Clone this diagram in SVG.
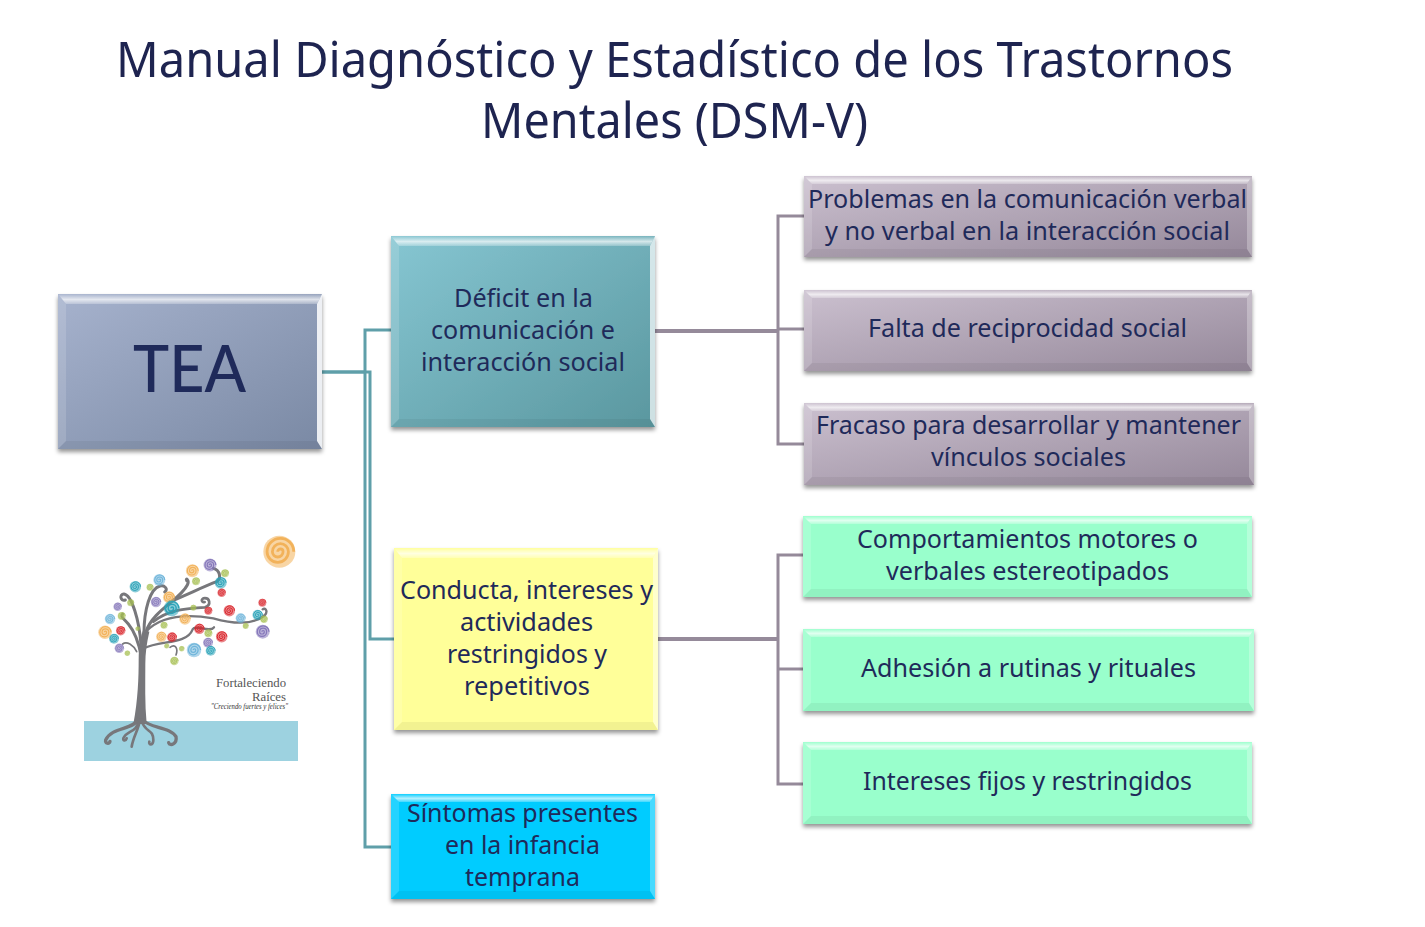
<svg xmlns="http://www.w3.org/2000/svg" width="1425" height="927" viewBox="0 0 1425 927">
<style>
text{font-family:"Noto Sans","Open Sans","DejaVu Sans",sans-serif;fill:#1f2a5a}
.t{font-size:50px;fill:#1e2450}
.l{font-size:26px}
.tea{font-family:Lato,"Noto Sans",sans-serif;font-size:66px;font-weight:500}
.ct{fill:none;stroke:#5f9fa9;stroke-width:3}
.cp{fill:none;stroke:#958a9a;stroke-width:3}
.cm{stroke-width:4}
.bt{fill:url(#bevT)}
.bl{fill:#fff;opacity:.14}
.br{fill:#fff;opacity:.28}
.bb{fill:#000;opacity:.05}
#node-tea .br{opacity:.85}
#node-deficit .br{opacity:.7}
#node-conducta .br{opacity:.5}
.face{filter:url(#sh)}
.tree{fill:none;stroke:#77777b;stroke-linecap:round}
.o{color:#f2b25a}.p{color:#8577ba}.g{color:#a6bf52}.c{color:#2ba3b8}.r{color:#d9252b}.b{color:#6fb5da}
.lg{font-family:"Liberation Serif",serif;fill:#555}
</style>
<defs>
<filter id="sh" x="-5%" y="-5%" width="110%" height="115%"><feDropShadow dx="0" dy="3" stdDeviation="2" flood-color="#000" flood-opacity=".42"/></filter>
<linearGradient id="bevT" x1="0" y1="0" x2="0" y2="1"><stop offset="0" stop-color="#fff" stop-opacity=".05"/><stop offset=".55" stop-color="#fff" stop-opacity=".7"/><stop offset="1" stop-color="#fff" stop-opacity=".25"/></linearGradient>
<linearGradient id="gTea" x1="0" y1="0" x2="1" y2="1"><stop offset="0" stop-color="#a6b2cd"/><stop offset="1" stop-color="#7a89a4"/></linearGradient>
<linearGradient id="gTeal" x1="0" y1="0" x2="1" y2="1"><stop offset="0" stop-color="#86c6d2"/><stop offset="1" stop-color="#5a979f"/></linearGradient>
<linearGradient id="gPur" x1="0" y1="0" x2="1" y2="1"><stop offset="0" stop-color="#cbc0cf"/><stop offset="1" stop-color="#95889a"/></linearGradient>
<g id="s"><circle r="15" fill="currentColor" opacity=".55"/><path d="M0 0a2.5 2.5 0 0 1 5 0a5 5 0 0 1-10 0a7.5 7.5 0 0 1 15 0a10 10 0 0 1-20 0a12.5 12.5 0 0 1 25 0" transform="translate(-1.5 0)" fill="none" stroke="currentColor" stroke-width="2.6"/></g>
</defs>

<g id="title">
<text class="t" x="116" y="77" textLength="1117" lengthAdjust="spacingAndGlyphs">Manual Diagnóstico y Estadístico de los Trastornos</text>
<text class="t" x="481" y="138" textLength="387" lengthAdjust="spacingAndGlyphs">Mentales (DSM-V)</text>
</g>

<g id="connectors">
<path class="ct" d="M322 372H370V639H394"/>
<path class="ct" d="M391 330H365V847H391"/>
<path class="ct" d="M322 372H365"/>
<path class="cp cm" d="M655 331H778"/>
<path class="cp" d="M804 216H778V444H804"/>
<path class="cp" d="M778 329H804"/>
<path class="cp cm" d="M658 639H778"/>
<path class="cp" d="M803 555H778V784H803"/>
<path class="cp" d="M778 669H803"/>
</g>

<g id="node-tea">
<rect class="face" x="58" y="294" width="264" height="155" fill="url(#gTea)"/>
<polygon class="bt" points="58,294 322,294 317,304 66,304"/><polygon class="bl" points="58,294 66,304 66,441 58,449"/><polygon class="br" points="322,294 322,449 317,441 317,304"/><polygon class="bb" points="58,449 322,449 317,441 66,441"/>
<text class="tea" x="133" y="392" textLength="113" lengthAdjust="spacingAndGlyphs">TEA</text>
</g>

<g id="node-deficit">
<rect class="face" x="391" y="236" width="264" height="191" fill="url(#gTeal)"/>
<polygon class="bt" points="391,236 655,236 650,246 399,246"/><polygon class="bl" points="391,236 399,246 399,419 391,427"/><polygon class="br" points="655,236 655,427 650,419 650,246"/><polygon class="bb" points="391,427 655,427 650,419 399,419"/>
<text class="l" x="454" y="307" textLength="139" lengthAdjust="spacingAndGlyphs">Déficit en la</text>
<text class="l" x="431" y="339" textLength="184" lengthAdjust="spacingAndGlyphs">comunicación e</text>
<text class="l" x="421" y="371" textLength="204" lengthAdjust="spacingAndGlyphs">interacción social</text>
</g>

<g id="node-conducta">
<rect class="face" x="394" y="548" width="264" height="182" fill="#ffff99"/>
<polygon class="bt" points="394,548 658,548 653,558 402,558"/><polygon class="bl" points="394,548 402,558 402,722 394,730"/><polygon class="br" points="658,548 658,730 653,722 653,558"/><polygon class="bb" points="394,730 658,730 653,722 402,722"/>
<text class="l" x="400" y="599" textLength="253" lengthAdjust="spacingAndGlyphs">Conducta, intereses y</text>
<text class="l" x="460" y="631" textLength="133" lengthAdjust="spacingAndGlyphs">actividades</text>
<text class="l" x="447" y="663" textLength="160" lengthAdjust="spacingAndGlyphs">restringidos y</text>
<text class="l" x="464" y="695" textLength="126" lengthAdjust="spacingAndGlyphs">repetitivos</text>
</g>

<g id="node-sintomas">
<rect class="face" x="391" y="794" width="264" height="105" fill="#00ccff"/>
<polygon class="bt" points="391,794 655,794 650,802 399,802"/><polygon class="bl" points="391,794 399,802 399,891 391,899"/><polygon class="br" points="655,794 655,899 650,891 650,802"/><polygon class="bb" points="391,899 655,899 650,891 399,891"/>
<text class="l" x="407" y="822" textLength="231" lengthAdjust="spacingAndGlyphs">Síntomas presentes</text>
<text class="l" x="445" y="854" textLength="155" lengthAdjust="spacingAndGlyphs">en la infancia</text>
<text class="l" x="465" y="886" textLength="115" lengthAdjust="spacingAndGlyphs">temprana</text>
</g>

<g id="node-problemas">
<rect class="face" x="804" y="176" width="448" height="81" fill="url(#gPur)"/>
<polygon class="bt" points="804,176 1252,176 1247,184 812,184"/><polygon class="bl" points="804,176 812,184 812,249 804,257"/><polygon class="br" points="1252,176 1252,257 1247,249 1247,184"/><polygon class="bb" points="804,257 1252,257 1247,249 812,249"/>
<text class="l" x="808" y="208" textLength="439" lengthAdjust="spacingAndGlyphs">Problemas en la comunicación verbal</text>
<text class="l" x="825" y="240" textLength="405" lengthAdjust="spacingAndGlyphs">y no verbal en la interacción social</text>
</g>

<g id="node-falta">
<rect class="face" x="804" y="290" width="448" height="81" fill="url(#gPur)"/>
<polygon class="bt" points="804,290 1252,290 1247,298 812,298"/><polygon class="bl" points="804,290 812,298 812,363 804,371"/><polygon class="br" points="1252,290 1252,371 1247,363 1247,298"/><polygon class="bb" points="804,371 1252,371 1247,363 812,363"/>
<text class="l" x="868" y="337" textLength="319" lengthAdjust="spacingAndGlyphs">Falta de reciprocidad social</text>
</g>

<g id="node-fracaso">
<rect class="face" x="804" y="403" width="450" height="82" fill="url(#gPur)"/>
<polygon class="bt" points="804,403 1254,403 1249,411 812,411"/><polygon class="bl" points="804,403 812,411 812,477 804,485"/><polygon class="br" points="1254,403 1254,485 1249,477 1249,411"/><polygon class="bb" points="804,485 1254,485 1249,477 812,477"/>
<text class="l" x="816" y="434" textLength="425" lengthAdjust="spacingAndGlyphs">Fracaso para desarrollar y mantener</text>
<text class="l" x="931" y="466" textLength="195" lengthAdjust="spacingAndGlyphs">vínculos sociales</text>
</g>

<g id="node-comportamientos">
<rect class="face" x="803" y="516" width="449" height="81" fill="#99ffcc"/>
<polygon class="bt" points="803,516 1252,516 1247,524 811,524"/><polygon class="bl" points="803,516 811,524 811,589 803,597"/><polygon class="br" points="1252,516 1252,597 1247,589 1247,524"/><polygon class="bb" points="803,597 1252,597 1247,589 811,589"/>
<text class="l" x="857" y="548" textLength="341" lengthAdjust="spacingAndGlyphs">Comportamientos motores o</text>
<text class="l" x="886" y="580" textLength="283" lengthAdjust="spacingAndGlyphs">verbales estereotipados</text>
</g>

<g id="node-adhesion">
<rect class="face" x="803" y="629" width="451" height="82" fill="#99ffcc"/>
<polygon class="bt" points="803,629 1254,629 1249,637 811,637"/><polygon class="bl" points="803,629 811,637 811,703 803,711"/><polygon class="br" points="1254,629 1254,711 1249,703 1249,637"/><polygon class="bb" points="803,711 1254,711 1249,703 811,703"/>
<text class="l" x="861" y="677" textLength="335" lengthAdjust="spacingAndGlyphs">Adhesión a rutinas y rituales</text>
</g>

<g id="node-intereses">
<rect class="face" x="803" y="742" width="449" height="82" fill="#99ffcc"/>
<polygon class="bt" points="803,742 1252,742 1247,750 811,750"/><polygon class="bl" points="803,742 811,750 811,816 803,824"/><polygon class="br" points="1252,742 1252,824 1247,816 1247,750"/><polygon class="bb" points="803,824 1252,824 1247,816 811,816"/>
<text class="l" x="863" y="790" textLength="329" lengthAdjust="spacingAndGlyphs">Intereses fijos y restringidos</text>
</g>

<g id="logo">
<rect x="84" y="721" width="214" height="40" fill="#9dd2e0"/>
<g transform="translate(70 520) scale(.33333)">
<path d="M190 612C204 540 206 470 206 420C206 380 212 350 220 328L238 335C230 370 226 400 226 430C226 490 224 550 230 612Z" fill="#77777b"/>
<g class="tree" stroke-width="9">
<path d="M214 410C205 360 190 330 175 312C162 296 150 290 158 282"/>
<path d="M213 375C208 300 185 225 162 222C148 221 150 245 166 240"/>
<path d="M222 340C222 270 240 205 270 198C284 195 296 208 284 216"/>
<path d="M228 335C250 270 330 240 352 195C360 180 345 172 350 182"/>
<path d="M300 245C350 225 400 200 440 185C455 175 450 150 430 145"/>
<path d="M228 335C270 290 340 280 430 295C490 312 550 315 585 285C595 272 585 262 578 268" stroke-width="7"/>
<path d="M222 385C270 360 350 375 368 328C376 312 420 340 432 322" stroke-width="7"/>
<path d="M250 305C300 265 360 265 405 262C425 255 420 232 400 235C392 240 396 248 404 246" stroke-width="8"/>
<path d="M200 395C190 375 170 362 158 372" stroke-width="5"/>
<path d="M300 382C316 370 325 385 318 405" stroke-width="5"/>
<path d="M205 598C190 630 125 620 107 660C104 672 118 672 120 664" stroke-width="10"/>
<path d="M207 600C200 640 170 630 160 655C158 665 168 662 170 655" stroke-width="8"/>
<path d="M210 600C205 630 190 650 185 680" stroke-width="8"/>
<path d="M214 600C225 640 250 625 250 660C250 678 235 675 238 665" stroke-width="8"/>
<path d="M218 600C240 625 300 620 318 650C322 672 300 680 296 668" stroke-width="10"/>
</g>
<use href="#s" class="o" transform="translate(628 95) scale(3.2)"/>
<use href="#s" class="p" transform="translate(420 135) scale(1.3)"/>
<use href="#s" class="o" transform="translate(367 152) scale(1.3)"/>
<use href="#s" class="g" transform="translate(465 160) scale(.8)"/>
<use href="#s" class="c" transform="translate(452 188) scale(1.2)"/>
<use href="#s" class="r" transform="translate(455 218) scale(.85)"/>
<use href="#s" class="g" transform="translate(378 184) scale(.8)"/>
<use href="#s" class="b" transform="translate(268 180) scale(1.2)"/>
<use href="#s" class="g" transform="translate(240 202) scale(.7)"/>
<use href="#s" class="c" transform="translate(196 200) scale(1.15)"/>
<use href="#s" class="o" transform="translate(297 232) scale(1.2)"/>
<use href="#s" class="p" transform="translate(258 246) scale(1.05)"/>
<use href="#s" class="c" transform="translate(305 265) scale(1.6)"/>
<use href="#s" class="p" transform="translate(143 260) scale(.85)"/>
<use href="#s" class="g" transform="translate(182 248) scale(.7)"/>
<use href="#s" class="b" transform="translate(120 297) scale(1.05)"/>
<use href="#s" class="g" transform="translate(155 288) scale(.8)"/>
<use href="#s" class="o" transform="translate(105 337) scale(1.35)"/>
<use href="#s" class="r" transform="translate(152 332) scale(.95)"/>
<use href="#s" class="c" transform="translate(132 356) scale(1)"/>
<use href="#s" class="p" transform="translate(148 385) scale(.95)"/>
<use href="#s" class="g" transform="translate(172 400) scale(.55)"/>
<use href="#s" class="r" transform="translate(415 272) scale(.8)"/>
<use href="#s" class="g" transform="translate(370 263) scale(.6)"/>
<use href="#s" class="o" transform="translate(345 297) scale(1.15)"/>
<use href="#s" class="r" transform="translate(478 272) scale(1.15)"/>
<use href="#s" class="b" transform="translate(512 295) scale(1)"/>
<use href="#s" class="c" transform="translate(563 285) scale(1.05)"/>
<use href="#s" class="r" transform="translate(577 248) scale(.8)"/>
<use href="#s" class="g" transform="translate(582 298) scale(.75)"/>
<use href="#s" class="g" transform="translate(527 318) scale(.6)"/>
<use href="#s" class="p" transform="translate(578 335) scale(1.4)"/>
<use href="#s" class="g" transform="translate(282 316) scale(.7)"/>
<use href="#s" class="o" transform="translate(274 350) scale(1.05)"/>
<use href="#s" class="r" transform="translate(306 352) scale(1)"/>
<use href="#s" class="r" transform="translate(388 326) scale(1.05)"/>
<use href="#s" class="g" transform="translate(415 340) scale(.8)"/>
<use href="#s" class="r" transform="translate(455 350) scale(1.15)"/>
<use href="#s" class="p" transform="translate(414 368) scale(1)"/>
<use href="#s" class="c" transform="translate(422 392) scale(1)"/>
<use href="#s" class="b" transform="translate(372 390) scale(1.45)"/>
<use href="#s" class="g" transform="translate(335 386) scale(.55)"/>
<use href="#s" class="g" transform="translate(290 378) scale(.5)"/>
<use href="#s" class="g" transform="translate(313 423) scale(.85)"/>
<use href="#s" class="g" transform="translate(203 326) scale(.45)"/>
</g>
<text class="lg" x="216" y="687" font-size="12" textLength="70" lengthAdjust="spacingAndGlyphs">Fortaleciendo</text>
<text class="lg" x="252" y="701" font-size="12" textLength="34" lengthAdjust="spacingAndGlyphs">Raíces</text>
<text class="lg" x="211" y="709" font-size="7.5" font-style="italic" textLength="77" lengthAdjust="spacingAndGlyphs" style="fill:#333">"Creciendo fuertes y felices"</text>
</g>
</svg>
